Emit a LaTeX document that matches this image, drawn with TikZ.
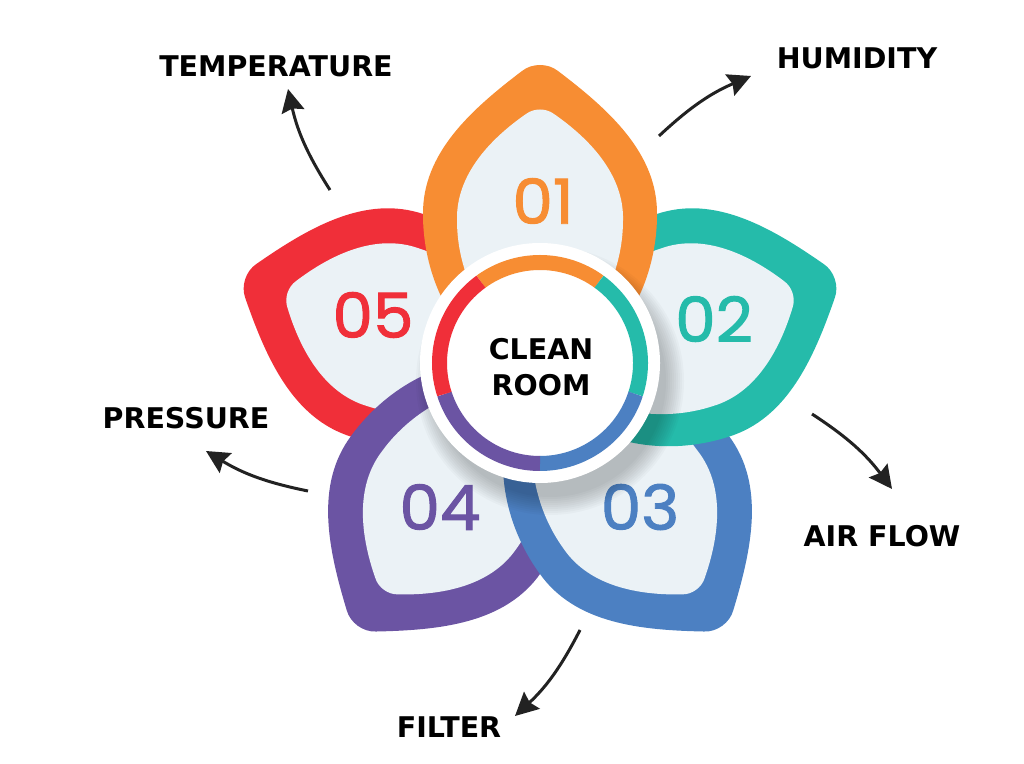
\documentclass[tikz,border=0pt]{standalone}
\usepackage{fontspec}
\usepackage{xcolor}
\usetikzlibrary{arrows.meta,positioning}
\setmainfont{DejaVu Sans}
\newfontfamily\numfont[FakeBold=1.6,FakeStretch=1.04]{Poppins}
\definecolor{petalorange}{HTML}{F78D33}
\definecolor{petalteal}{HTML}{25BBAA}
\definecolor{petalblue}{HTML}{4C80C2}
\definecolor{petalpurple}{HTML}{6B54A3}
\definecolor{petalred}{HTML}{F02F39}
\definecolor{petalfill}{HTML}{EBF2F6}
\definecolor{arrowgray}{HTML}{222222}
\tikzset{>={Stealth[length=23pt,width=23pt,inset=3pt]}}
\tikzset{label/.style={font=\fontsize{28.5}{36}\selectfont\bfseries,text=black}}
\tikzset{num/.style={font=\fontsize{62}{62}\selectfont\numfont}}
\tikzset{flow/.style={->,line width=3pt,draw=arrowgray}}
\newcommand{\petal}[2]{
    \begin{scope}[shift={(540,388)},rotate=-#2]
        \fill[#1] (-18,304) .. controls (-8,312) and (8,312) .. (18,304)
            .. controls (68,266) and (118,222) .. (117,160)
            .. controls (117,115) and (100,50) .. (40,10) -- (0,0) -- (-40,10)
            .. controls (-100,50) and (-117,115) .. (-117,160)
            .. controls (-118,222) and (-68,266) .. (-18,304) -- cycle;
        \fill[petalfill] (-14,261) .. controls (-6,267) and (6,267) .. (14,261)
            .. controls (50,236) and (84,200) .. (83,155)
            .. controls (83,125) and (75,85) .. (40,40) -- (0,20) -- (-40,40)
            .. controls (-75,85) and (-83,125) .. (-83,155)
            .. controls (-84,200) and (-50,236) .. (-14,261) -- cycle;
    \end{scope}
}

\begin{document}
\begin{tikzpicture}[x=1pt,y=1pt]
    \useasboundingbox (0,0) rectangle (1024,763);

    \foreach \col/\ang in {petalred/288,petalpurple/216,petalblue/144,petalteal/72,petalorange/0}
        \petal{\col}{\ang};

    \node[num,text=petalorange] (n1) at (543,562) {01};
    \node[num,text=petalteal] (n2) at (714,444) {02};
    \node[num,text=petalblue] (n3) at (640,256) {03};
    \node[num,text=petalpurple] (n4) at (440,256) {04};
    \node[num,text=petalred] (n5) at (373,448) {05};

    \foreach \r in {116,118,...,134}
        \fill[black,opacity=0.022] (550,382) circle (\r);

    \node[circle,fill=white,minimum size=240pt,inner sep=0pt] (rim) at (540,400) {};
    \foreach \col/\a in {petalorange/54,petalteal/-18,petalblue/-90,petalpurple/198,petalred/126}
        \draw[\col,line width=15pt] (rim.center) ++(\a:100.5) arc[start angle=\a,delta angle=72,radius=100.5];
    \node[label,align=center] (core) at (541,396) {CLEAN\\ROOM};

    \node[label] (temperature) at (276,697) {TEMPERATURE};
    \node[label] (humidity) at (857,705) {HUMIDITY};
    \node[label] (airflow) at (882,227) {AIR FLOW};
    \node[label] (filter) at (449,36) {FILTER};
    \node[label] (pressure) at (186,345) {PRESSURE};

    \coordinate (temperature1) at (330,573);
    \coordinate (temperature2) at (288,674);
    \coordinate (humidity1) at (659,627);
    \coordinate (humidity2) at (751,687);
    \coordinate (airflow1) at (812,349);
    \coordinate (airflow2) at (892,274);
    \coordinate (filter1) at (580,133);
    \coordinate (filter2) at (515,47);
    \coordinate (pressure1) at (308,272);
    \coordinate (pressure2) at (206,312);

    \draw[flow] (temperature1) to[bend left=10] (temperature2);
    \draw[flow] (humidity1) to[bend left=10] (humidity2);
    \draw[flow] (airflow1) to[bend left=10] (airflow2);
    \draw[flow] (filter1) to[bend left=10] (filter2);
    \draw[flow] (pressure1) to[bend left=10] (pressure2);
\end{tikzpicture}
\end{document}
